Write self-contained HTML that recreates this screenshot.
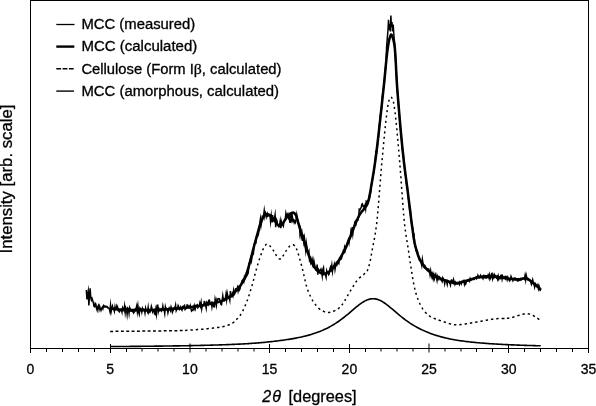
<!DOCTYPE html>
<html><head><meta charset="utf-8"><title>XRD</title>
<style>html,body{margin:0;padding:0;background:#fff}svg{display:block}</style></head>
<body>
<svg width="596" height="406" viewBox="0 0 596 406">
<rect width="596" height="406" fill="#fff"/>
<g shape-rendering="crispEdges" stroke="#000" stroke-width="1" fill="none">
<path d="M30.5 0.5H588.5V348.5H30.5Z"/>
<path d="M30.5 348.5V352.5"/>
<path d="M46.5 348.5V351.5"/>
<path d="M62.5 348.5V351.5"/>
<path d="M78.5 348.5V351.5"/>
<path d="M94.5 348.5V351.5"/>
<path d="M110.5 343.5V352.5"/>
<path d="M126.5 348.5V351.5"/>
<path d="M269.5 343.5V352.5"/>
<path d="M285.5 348.5V351.5"/>
<path d="M301.5 348.5V351.5"/>
<path d="M317.5 348.5V351.5"/>
<path d="M333.5 348.5V351.5"/>
<path d="M349.5 343.5V352.5"/>
<path d="M365.5 348.5V351.5"/>
<path d="M476.5 348.5V351.5"/>
<path d="M492.5 348.5V351.5"/>
<path d="M508.5 343.5V352.5"/>
<path d="M524.5 348.5V351.5"/>
<path d="M540.5 348.5V351.5"/>
<path d="M556.5 348.5V351.5"/>
<path d="M572.5 348.5V351.5"/>
<path d="M588.5 348.5V352.5"/>
</g>
<g stroke="#000" stroke-width="1" fill="none"><path d="M142.0 348.5V351.5"/><path d="M158.0 348.5V351.5"/><path d="M174.0 348.5V351.5"/><path d="M190.0 343.5V352.5"/><path d="M206.0 348.5V351.5"/><path d="M222.0 348.5V351.5"/><path d="M238.0 348.5V351.5"/><path d="M254.0 348.5V351.5"/><path d="M381.0 348.5V351.5"/><path d="M397.0 348.5V351.5"/><path d="M413.0 348.5V351.5"/><path d="M429.0 343.5V352.5"/><path d="M445.0 348.5V351.5"/><path d="M461.0 348.5V351.5"/></g>
<g fill="none" stroke="#000" stroke-linejoin="round" stroke-linecap="butt">
<path d="M110.21 346.58 L111.65 346.57 L113.09 346.56 L114.53 346.55 L115.97 346.54 L117.41 346.53 L118.85 346.52 L120.29 346.50 L121.73 346.49 L123.17 346.48 L124.61 346.47 L126.05 346.46 L127.49 346.45 L128.93 346.43 L130.37 346.42 L131.81 346.41 L133.25 346.40 L134.69 346.38 L136.13 346.37 L137.57 346.36 L139.01 346.34 L140.45 346.33 L141.89 346.31 L143.33 346.30 L144.77 346.28 L146.21 346.27 L147.65 346.25 L149.08 346.24 L150.52 346.22 L151.96 346.21 L153.40 346.19 L154.84 346.17 L156.28 346.16 L157.72 346.14 L159.16 346.12 L160.60 346.10 L162.04 346.08 L163.48 346.06 L164.92 346.05 L166.36 346.03 L167.80 346.01 L169.24 345.99 L170.68 345.96 L172.12 345.94 L173.56 345.92 L175.00 345.90 L176.44 345.88 L177.88 345.85 L179.32 345.83 L180.76 345.80 L182.20 345.78 L183.64 345.75 L185.08 345.73 L186.52 345.70 L187.96 345.68 L189.40 345.65 L190.84 345.62 L192.27 345.59 L193.71 345.56 L195.15 345.53 L196.59 345.50 L198.03 345.47 L199.47 345.44 L200.91 345.40 L202.35 345.37 L203.79 345.33 L205.23 345.30 L206.67 345.26 L208.11 345.22 L209.55 345.19 L210.99 345.15 L212.43 345.11 L213.87 345.06 L215.31 345.02 L216.75 344.98 L218.19 344.93 L219.63 344.89 L221.07 344.84 L222.51 344.79 L223.95 344.74 L225.39 344.69 L226.83 344.64 L228.27 344.58 L229.71 344.53 L231.15 344.47 L232.59 344.41 L234.02 344.35 L235.46 344.28 L236.90 344.22 L238.34 344.15 L239.78 344.08 L241.22 344.01 L242.66 343.93 L244.10 343.85 L245.54 343.77 L246.98 343.68 L248.42 343.60 L249.86 343.50 L251.30 343.41 L252.74 343.30 L254.18 343.20 L255.62 343.09 L257.06 342.98 L258.50 342.86 L259.94 342.73 L261.38 342.60 L262.82 342.47 L264.26 342.33 L265.70 342.19 L267.14 342.05 L268.58 341.90 L270.02 341.74 L271.46 341.59 L272.90 341.42 L274.34 341.26 L275.77 341.09 L277.21 340.92 L278.65 340.74 L280.09 340.56 L281.53 340.37 L282.97 340.18 L284.41 339.98 L285.85 339.77 L287.29 339.56 L288.73 339.34 L290.17 339.11 L291.61 338.87 L293.05 338.63 L294.49 338.37 L295.93 338.10 L297.37 337.82 L298.81 337.53 L300.25 337.23 L301.69 336.91 L303.13 336.58 L304.57 336.24 L306.01 335.88 L307.45 335.50 L308.89 335.11 L310.33 334.69 L311.77 334.26 L313.21 333.81 L314.65 333.34 L316.09 332.84 L317.52 332.33 L318.96 331.78 L320.40 331.22 L321.84 330.62 L323.28 330.00 L324.72 329.34 L326.16 328.66 L327.60 327.95 L329.04 327.20 L330.48 326.42 L331.92 325.60 L333.36 324.75 L334.80 323.86 L336.24 322.93 L337.68 321.97 L339.12 320.97 L340.56 319.93 L342.00 318.86 L343.44 317.75 L344.88 316.61 L346.32 315.45 L347.76 314.26 L349.20 313.05 L350.64 311.82 L352.08 310.59 L353.52 309.36 L354.96 308.14 L356.40 306.95 L357.84 305.78 L359.27 304.66 L360.71 303.60 L362.15 302.61 L363.59 301.70 L365.03 300.89 L366.47 300.20 L367.91 299.62 L369.35 299.18 L370.79 298.88 L372.23 298.72 L373.67 298.72 L375.11 298.86 L376.55 299.14 L377.99 299.57 L379.43 300.13 L380.87 300.81 L382.31 301.61 L383.75 302.50 L385.19 303.48 L386.63 304.54 L388.07 305.65 L389.51 306.82 L390.95 308.01 L392.39 309.23 L393.83 310.46 L395.27 311.69 L396.71 312.92 L398.15 314.13 L399.59 315.33 L401.02 316.50 L402.46 317.64 L403.90 318.75 L405.34 319.84 L406.78 320.88 L408.22 321.89 L409.66 322.87 L411.10 323.80 L412.54 324.71 L413.98 325.57 L415.42 326.41 L416.86 327.21 L418.30 327.97 L419.74 328.71 L421.18 329.42 L422.62 330.10 L424.06 330.75 L425.50 331.38 L426.94 331.99 L428.38 332.57 L429.82 333.13 L431.26 333.67 L432.70 334.19 L434.14 334.68 L435.58 335.16 L437.02 335.62 L438.46 336.06 L439.90 336.48 L441.34 336.88 L442.77 337.27 L444.21 337.63 L445.65 337.98 L447.09 338.31 L448.53 338.63 L449.97 338.93 L451.41 339.21 L452.85 339.49 L454.29 339.75 L455.73 339.99 L457.17 340.23 L458.61 340.46 L460.05 340.67 L461.49 340.88 L462.93 341.08 L464.37 341.27 L465.81 341.45 L467.25 341.63 L468.69 341.80 L470.13 341.96 L471.57 342.11 L473.01 342.26 L474.45 342.41 L475.89 342.55 L477.33 342.68 L478.77 342.81 L480.21 342.93 L481.65 343.06 L483.09 343.17 L484.52 343.28 L485.96 343.39 L487.40 343.50 L488.84 343.60 L490.28 343.70 L491.72 343.79 L493.16 343.88 L494.60 343.97 L496.04 344.06 L497.48 344.14 L498.92 344.22 L500.36 344.30 L501.80 344.38 L503.24 344.45 L504.68 344.52 L506.12 344.59 L507.56 344.66 L509.00 344.73 L510.44 344.79 L511.88 344.85 L513.32 344.91 L514.76 344.97 L516.20 345.03 L517.64 345.08 L519.08 345.14 L520.52 345.19 L521.96 345.24 L523.40 345.29 L524.84 345.34 L526.27 345.38 L527.71 345.43 L529.15 345.47 L530.59 345.52 L532.03 345.56 L533.47 345.60 L534.91 345.64 L536.35 345.68 L537.79 345.72 L539.23 345.76 L540.67 345.79" stroke-width="1.6"/>
<path d="M110.20 331.40 L110.68 331.40 L111.16 331.39 L111.64 331.39 L112.12 331.39 L112.60 331.38 L113.08 331.38 L113.10 331.38 M115.55 331.36 L115.95 331.36 L116.43 331.36 L116.91 331.35 L117.39 331.35 L117.87 331.34 L118.35 331.34 L118.45 331.34 M120.90 331.32 L121.22 331.32 L121.70 331.31 L122.18 331.31 L122.66 331.30 L123.14 331.30 L123.62 331.29 L123.80 331.29 M126.25 331.27 L126.49 331.27 L126.97 331.26 L127.45 331.26 L127.93 331.25 L128.41 331.25 L128.89 331.24 L129.15 331.24 M131.60 331.21 L131.76 331.21 L132.24 331.21 L132.72 331.20 L133.20 331.20 L133.68 331.19 L134.16 331.19 L134.50 331.19 M136.95 331.16 L137.04 331.16 L137.51 331.15 L137.99 331.15 L138.47 331.14 L138.95 331.14 L139.43 331.14 L139.85 331.13 M142.30 331.11 L142.31 331.11 L142.79 331.10 L143.26 331.10 L143.74 331.09 L144.22 331.09 L144.70 331.08 L145.18 331.08 L145.20 331.08 M147.65 331.05 L148.06 331.05 L148.54 331.04 L149.02 331.04 L149.49 331.03 L149.97 331.03 L150.45 331.02 L150.55 331.02 M153.00 330.99 L153.33 330.99 L153.81 330.99 L154.29 330.98 L154.77 330.97 L155.24 330.97 L155.72 330.96 L155.90 330.96 M158.35 330.93 L158.60 330.93 L159.08 330.92 L159.56 330.92 L160.04 330.91 L160.52 330.90 L161.00 330.90 L161.25 330.89 M163.70 330.86 L163.87 330.86 L164.35 330.85 L164.83 330.84 L165.31 330.84 L165.79 330.83 L166.27 330.82 L166.60 330.82 M169.05 330.78 L169.14 330.78 L169.62 330.77 L170.10 330.77 L170.58 330.76 L171.06 330.75 L171.54 330.74 L171.95 330.74 M174.40 330.70 L174.41 330.70 L174.89 330.69 L175.37 330.68 L175.85 330.67 L176.33 330.67 L176.81 330.66 L177.29 330.65 L177.30 330.65 M179.75 330.60 L180.16 330.60 L180.64 330.59 L181.12 330.57 L181.60 330.56 L182.08 330.55 L182.56 330.53 L182.64 330.53 M185.09 330.42 L185.43 330.40 L185.91 330.38 L186.39 330.35 L186.87 330.33 L187.35 330.30 L187.49 330.29 M190.43 330.10 L190.71 330.08 L191.18 330.05 L191.66 330.01 L192.14 329.98 L192.62 329.94 L192.83 329.93 M195.77 329.71 L195.98 329.69 L196.46 329.66 L196.94 329.62 L197.41 329.59 L197.89 329.55 L198.16 329.53 M201.10 329.32 L201.25 329.31 L201.73 329.27 L202.21 329.23 L202.69 329.19 L203.16 329.15 L203.50 329.12 M206.43 328.83 L206.52 328.83 L207.00 328.78 L207.48 328.72 L207.96 328.67 L208.44 328.62 L208.82 328.58 M211.75 328.23 L211.79 328.23 L212.27 328.17 L212.75 328.11 L213.23 328.05 L213.71 327.99 L214.13 327.94 M217.06 327.57 L217.06 327.57 L217.54 327.51 L218.02 327.45 L218.50 327.39 L218.98 327.33 L219.44 327.27 M222.35 326.80 L222.81 326.69 L223.29 326.58 L223.77 326.46 L224.25 326.33 L224.68 326.22 M227.50 325.35 L227.60 325.32 L228.08 325.16 L228.56 324.99 L229.04 324.83 L229.52 324.67 L229.77 324.58 M232.38 323.24 L232.40 323.23 L232.87 322.88 L233.35 322.51 L233.83 322.11 L234.25 321.74 M236.35 319.66 L236.71 319.27 L237.19 318.75 L237.67 318.21 L237.69 318.18 M239.88 315.64 L240.06 315.43 L240.54 314.81 L241.02 314.11 L241.07 314.04 M242.71 311.12 L242.94 310.66 L243.42 309.66 L243.58 309.32 M244.93 306.25 L245.33 305.31 L245.71 304.41 M246.97 301.31 L247.25 300.58 L247.67 299.43 M248.74 296.26 L249.17 294.91 L249.34 294.35 M250.32 291.15 L250.61 290.20 L250.89 289.23 M251.85 286.02 L252.04 285.35 L252.41 284.10 M253.29 280.87 L253.48 280.18 L253.81 278.94 M254.65 275.69 L254.92 274.67 L255.16 273.76 M256.02 270.52 L256.36 269.28 L256.55 268.59 M257.49 265.38 L257.79 264.38 L258.08 263.47 M259.09 260.27 L259.23 259.82 L259.71 258.37 M260.80 255.20 L261.15 254.24 L261.49 253.33 M262.71 250.21 L263.06 249.33 L263.48 248.36 M265.23 245.51 L265.46 245.21 L265.94 244.66 L266.42 244.24 L266.65 244.14 M269.49 245.48 L269.77 245.76 L270.25 246.28 L270.73 246.86 L270.82 246.97 M272.77 249.69 L273.13 250.17 L273.61 250.87 L273.90 251.34 M275.60 254.23 L276.00 254.94 L276.48 255.74 L276.62 255.95 M278.71 258.54 L278.88 258.67 L279.36 258.91 L279.84 259.00 L280.32 258.91 L280.79 258.65 L280.90 258.56 M282.75 256.29 L283.19 255.57 L283.67 254.76 L283.78 254.57 M285.51 251.70 L285.59 251.58 L286.07 250.91 L286.55 250.25 L286.67 250.07 M288.61 247.34 L288.94 246.92 L289.42 246.38 L289.90 245.91 L289.95 245.87 M292.91 244.54 L293.25 244.66 L293.73 244.99 L294.21 245.45 L294.69 246.02 L294.72 246.05 M296.31 248.53 L296.61 249.13 L297.09 250.30 L297.11 250.36 M298.18 253.53 L298.53 254.66 L298.76 255.45 M299.66 258.68 L299.96 259.77 L300.19 260.60 M301.08 263.83 L301.40 264.95 L301.62 265.76 M302.45 269.01 L302.84 270.65 L302.91 270.95 M303.65 274.22 L303.80 274.85 L304.09 276.17 M304.84 279.44 L305.23 281.15 L305.29 281.38 M306.10 284.64 L306.19 285.01 L306.62 286.57 M307.66 289.75 L308.11 290.93 L308.38 291.62 M309.67 294.71 L310.03 295.51 L310.50 296.53 M312.02 299.51 L312.42 300.22 L312.90 301.03 L313.03 301.24 M314.97 303.96 L315.30 304.36 L315.78 304.94 L316.25 305.50 M318.47 308.01 L318.65 308.19 L319.13 308.65 L319.61 309.06 L320.09 309.44 L320.29 309.57 M322.88 310.97 L322.96 311.01 L323.44 311.24 L323.92 311.47 L324.40 311.68 L324.88 311.87 L325.08 311.94 M327.95 312.50 L328.24 312.49 L328.71 312.45 L329.19 312.39 L329.67 312.31 L330.15 312.21 L330.33 312.17 M333.14 311.30 L333.51 311.17 L333.99 311.00 L334.47 310.83 L334.94 310.63 L335.38 310.42 M337.89 308.88 L338.30 308.57 L338.78 308.18 L339.26 307.77 L339.73 307.34 M341.73 305.18 L342.13 304.67 L342.61 304.01 L342.91 303.57 M344.71 300.75 L345.01 300.25 L345.49 299.43 L345.72 299.02 M347.38 296.11 L347.40 296.06 L347.88 295.20 L348.36 294.36 M350.04 291.47 L350.28 291.07 L350.76 290.29 L351.09 289.77 M352.87 286.93 L353.15 286.47 L353.63 285.68 L353.92 285.22 M355.72 282.40 L356.03 281.94 L356.51 281.26 L356.87 280.77 M359.10 278.27 L359.38 278.00 L359.86 277.58 L360.34 277.18 L360.82 276.79 L360.93 276.71 M363.23 274.87 L363.70 274.47 L364.18 274.04 L364.65 273.60 L365.01 273.27 M367.02 271.11 L367.05 271.06 L367.53 270.27 L367.92 269.33 M368.93 266.13 L368.97 265.99 L369.45 264.20 L369.45 264.20 M370.19 260.94 L370.41 259.89 L370.58 258.97 M371.18 255.68 L371.36 254.65 L371.53 253.71 M372.13 250.41 L372.32 249.35 L372.50 248.45 M373.14 245.16 L373.28 244.43 L373.52 243.20 M374.16 239.91 L374.24 239.47 L374.52 237.94 M375.09 234.64 L375.20 234.02 L375.41 232.67 M375.90 229.35 L376.16 227.58 L376.18 227.37 M376.60 224.05 L376.63 223.79 L376.82 222.06 M377.18 218.73 L377.37 216.74 M377.68 213.40 L377.86 211.41 M378.15 208.07 L378.32 206.08 M378.60 202.74 L378.76 200.75 M379.03 197.41 L379.03 197.36 L379.18 195.42 M379.45 192.08 L379.51 191.25 L379.60 190.08 M379.86 186.74 L379.99 185.10 L380.02 184.75 M380.28 181.41 L380.44 179.41 M380.70 176.08 L380.87 174.08 M381.14 170.74 L381.31 168.75 M381.60 165.41 L381.78 163.42 M382.09 160.09 L382.27 158.09 M382.59 154.76 L382.77 152.77 M383.08 149.43 L383.27 147.44 M383.58 144.10 L383.77 142.11 M384.08 138.78 L384.28 136.79 M384.60 133.45 L384.78 131.62 L384.80 131.46 M385.14 128.13 L385.26 126.91 L385.34 126.14 M385.70 122.81 L385.74 122.42 L385.92 120.82 M386.30 117.49 L386.55 115.51 M386.98 112.19 L387.18 110.71 L387.25 110.21 M387.72 106.89 L388.04 104.91 M388.68 101.63 L389.09 100.25 L389.30 99.73 M391.04 97.02 L391.49 97.29 L391.97 98.04 L392.21 98.58 M393.35 101.72 L393.41 101.91 L393.76 103.68 M394.30 106.98 L394.37 107.39 L394.58 108.96 M395.03 112.28 L395.29 114.27 M395.67 117.59 L395.80 118.74 L395.89 119.58 M396.24 122.91 L396.28 123.34 L396.43 124.91 M396.76 128.24 L396.76 128.29 L396.94 130.23 M397.24 133.57 L397.42 135.56 M397.71 138.90 L397.72 138.96 L397.89 140.89 M398.17 144.23 L398.20 144.53 L398.34 146.22 M398.62 149.56 L398.68 150.18 L398.79 151.55 M399.08 154.89 L399.16 155.84 L399.25 156.88 M399.53 160.22 L399.64 161.42 L399.70 162.21 M399.98 165.55 L400.12 167.25 L400.14 167.54 M400.39 170.88 L400.55 172.88 M400.80 176.22 L400.94 178.21 M401.18 181.56 L401.33 183.55 M401.57 186.89 L401.71 188.89 M401.95 192.23 L402.03 193.41 L402.09 194.22 M402.33 197.56 L402.48 199.56 M402.73 202.90 L402.88 204.89 M403.14 208.23 L403.29 210.23 M403.57 213.57 L403.74 215.56 M404.04 218.90 L404.23 220.89 M404.58 224.22 L404.80 226.21 M405.21 229.53 L405.39 230.87 L405.48 231.51 M405.96 234.83 L406.27 236.80 M406.80 240.11 L406.82 240.24 L407.13 242.08 M407.68 245.39 L407.78 246.02 L407.99 247.36 M408.50 250.68 L408.74 252.33 L408.79 252.65 M409.26 255.97 L409.54 257.95 M410.02 261.27 L410.18 262.33 L410.32 263.24 M410.83 266.55 L411.14 268.46 L411.15 268.53 M411.68 271.84 L412.00 273.81 M412.54 277.12 L412.57 277.30 L412.88 279.09 M413.46 282.39 L413.53 282.82 L413.82 284.35 M414.48 287.64 L414.49 287.67 L414.93 289.59 M415.82 292.82 L415.93 293.20 L416.39 294.73 M417.44 297.92 L417.85 299.06 L418.13 299.79 M419.44 302.88 L419.76 303.55 L420.24 304.45 L420.35 304.65 M421.95 307.60 L422.16 307.97 L422.64 308.79 L422.97 309.32 M424.99 311.98 L425.03 312.03 L425.51 312.50 L425.99 312.96 L426.47 313.41 L426.72 313.64 M428.95 315.57 L429.35 315.88 L429.83 316.23 L430.31 316.55 L430.78 316.86 L430.92 316.94 M433.59 318.19 L433.66 318.22 L434.14 318.42 L434.62 318.61 L435.10 318.80 L435.58 318.99 L435.82 319.08 M438.60 320.06 L438.93 320.17 L439.41 320.32 L439.89 320.47 L440.37 320.61 L440.85 320.76 L440.89 320.77 M443.69 321.71 L443.72 321.72 L444.20 321.89 L444.68 322.06 L445.16 322.23 L445.64 322.40 L445.95 322.51 M448.75 323.43 L448.99 323.51 L449.47 323.65 L449.95 323.79 L450.43 323.92 L450.91 324.04 L451.06 324.08 M453.96 324.64 L454.26 324.68 L454.74 324.73 L455.22 324.76 L455.70 324.79 L456.18 324.80 L456.35 324.80 M459.30 324.69 L459.54 324.67 L460.02 324.63 L460.49 324.59 L460.97 324.55 L461.45 324.50 L461.69 324.48 M464.62 324.10 L464.81 324.08 L465.29 324.00 L465.77 323.93 L466.24 323.86 L466.72 323.78 L466.99 323.73 M469.89 323.23 L470.08 323.20 L470.56 323.11 L471.04 323.02 L471.52 322.94 L472.00 322.85 L472.26 322.80 M475.16 322.28 L475.35 322.25 L475.83 322.16 L476.31 322.08 L476.79 322.00 L477.27 321.92 L477.53 321.88 M480.43 321.36 L480.62 321.32 L481.10 321.23 L481.58 321.14 L482.06 321.05 L482.54 320.96 L482.79 320.91 M485.69 320.36 L485.89 320.32 L486.37 320.23 L486.85 320.14 L487.33 320.05 L487.81 319.96 L488.04 319.92 M490.95 319.41 L491.16 319.37 L491.64 319.30 L492.12 319.22 L492.60 319.15 L493.08 319.08 L493.32 319.04 M496.25 318.72 L496.43 318.70 L496.91 318.67 L497.39 318.64 L497.87 318.62 L498.35 318.60 L498.65 318.58 M501.60 318.50 L501.71 318.50 L502.18 318.49 L502.66 318.48 L503.14 318.46 L503.62 318.45 L504.10 318.44 L504.50 318.42 M506.94 318.29 L506.98 318.29 L507.46 318.25 L507.94 318.20 L508.41 318.15 L508.89 318.10 L509.33 318.04 M512.22 317.47 L512.25 317.47 L512.73 317.33 L513.21 317.18 L513.69 317.03 L514.16 316.88 L514.51 316.76 M517.31 315.81 L517.52 315.75 L518.00 315.60 L518.48 315.46 L518.96 315.33 L519.44 315.20 L519.61 315.15 M522.45 314.36 L522.79 314.27 L523.27 314.15 L523.75 314.05 L524.23 313.95 L524.71 313.86 L524.80 313.84 M527.73 313.74 L528.06 313.79 L528.54 313.88 L529.02 314.00 L529.50 314.13 L529.98 314.27 L530.06 314.30 M532.81 315.37 L532.85 315.39 L533.33 315.65 L533.81 315.94 L534.29 316.25 L534.77 316.57 L534.85 316.63 M537.31 318.26 L537.65 318.47 L538.12 318.76 L538.60 319.05 L539.08 319.34 L539.36 319.51" stroke-width="1.5"/>
<path d="M110.20 308.50 L110.68 308.56 L111.16 308.63 L111.64 308.69 L112.12 308.75 L112.60 308.81 L113.08 308.88 L113.55 308.94 L114.03 308.99 L114.51 309.05 L114.99 309.10 L115.47 309.15 L115.95 309.20 L116.43 309.25 L116.91 309.29 L117.39 309.32 L117.87 309.36 L118.35 309.39 L118.83 309.41 L119.30 309.44 L119.78 309.46 L120.26 309.48 L120.74 309.51 L121.22 309.53 L121.70 309.56 L122.18 309.58 L122.66 309.61 L123.14 309.63 L123.62 309.65 L124.10 309.68 L124.58 309.70 L125.06 309.73 L125.53 309.75 L126.01 309.77 L126.49 309.79 L126.97 309.82 L127.45 309.84 L127.93 309.86 L128.41 309.88 L128.89 309.90 L129.37 309.92 L129.85 309.94 L130.33 309.96 L130.81 309.98 L131.28 310.00 L131.76 310.02 L132.24 310.04 L132.72 310.05 L133.20 310.07 L133.68 310.08 L134.16 310.10 L134.64 310.11 L135.12 310.13 L135.60 310.14 L136.08 310.15 L136.56 310.16 L137.04 310.17 L137.51 310.18 L137.99 310.19 L138.47 310.19 L138.95 310.20 L139.43 310.21 L139.91 310.21 L140.39 310.21 L140.87 310.21 L141.35 310.22 L141.83 310.21 L142.31 310.21 L142.79 310.21 L143.26 310.21 L143.74 310.20 L144.22 310.19 L144.70 310.19 L145.18 310.18 L145.66 310.17 L146.14 310.16 L146.62 310.15 L147.10 310.13 L147.58 310.12 L148.06 310.11 L148.54 310.09 L149.02 310.08 L149.49 310.06 L149.97 310.04 L150.45 310.02 L150.93 310.01 L151.41 309.99 L151.89 309.97 L152.37 309.95 L152.85 309.93 L153.33 309.91 L153.81 309.89 L154.29 309.86 L154.77 309.84 L155.24 309.82 L155.72 309.80 L156.20 309.78 L156.68 309.75 L157.16 309.73 L157.64 309.71 L158.12 309.69 L158.60 309.66 L159.08 309.64 L159.56 309.62 L160.04 309.60 L160.52 309.58 L161.00 309.55 L161.47 309.53 L161.95 309.51 L162.43 309.48 L162.91 309.46 L163.39 309.43 L163.87 309.41 L164.35 309.38 L164.83 309.35 L165.31 309.32 L165.79 309.30 L166.27 309.27 L166.75 309.24 L167.22 309.21 L167.70 309.18 L168.18 309.15 L168.66 309.12 L169.14 309.09 L169.62 309.06 L170.10 309.03 L170.58 308.99 L171.06 308.96 L171.54 308.93 L172.02 308.90 L172.50 308.86 L172.98 308.83 L173.45 308.79 L173.93 308.76 L174.41 308.73 L174.89 308.69 L175.37 308.65 L175.85 308.62 L176.33 308.58 L176.81 308.55 L177.29 308.51 L177.77 308.47 L178.25 308.44 L178.73 308.40 L179.20 308.36 L179.68 308.32 L180.16 308.29 L180.64 308.25 L181.12 308.21 L181.60 308.16 L182.08 308.12 L182.56 308.07 L183.04 308.03 L183.52 307.98 L184.00 307.93 L184.48 307.88 L184.96 307.83 L185.43 307.77 L185.91 307.72 L186.39 307.66 L186.87 307.60 L187.35 307.55 L187.83 307.49 L188.31 307.43 L188.79 307.37 L189.27 307.30 L189.75 307.24 L190.23 307.18 L190.71 307.11 L191.18 307.05 L191.66 306.98 L192.14 306.92 L192.62 306.85 L193.10 306.79 L193.58 306.72 L194.06 306.65 L194.54 306.58 L195.02 306.51 L195.50 306.45 L195.98 306.38 L196.46 306.31 L196.94 306.24 L197.41 306.17 L197.89 306.10 L198.37 306.03 L198.85 305.96 L199.33 305.90 L199.81 305.83 L200.29 305.76 L200.77 305.69 L201.25 305.61 L201.73 305.54 L202.21 305.46 L202.69 305.38 L203.16 305.30 L203.64 305.22 L204.12 305.13 L204.60 305.05 L205.08 304.96 L205.56 304.87 L206.04 304.77 L206.52 304.68 L207.00 304.58 L207.48 304.49 L207.96 304.39 L208.44 304.29 L208.92 304.18 L209.39 304.08 L209.87 303.98 L210.35 303.87 L210.83 303.76 L211.31 303.65 L211.79 303.54 L212.27 303.43 L212.75 303.32 L213.23 303.20 L213.71 303.09 L214.19 302.97 L214.67 302.86 L215.14 302.74 L215.62 302.62 L216.10 302.50 L216.58 302.38 L217.06 302.26 L217.54 302.14 L218.02 302.01 L218.50 301.89 L218.98 301.77 L219.46 301.64 L219.94 301.52 L220.42 301.39 L220.89 301.24 L221.37 301.08 L221.85 300.91 L222.33 300.72 L222.81 300.52 L223.29 300.31 L223.77 300.09 L224.25 299.86 L224.73 299.61 L225.21 299.36 L225.69 299.10 L226.17 298.84 L226.65 298.56 L227.12 298.28 L227.60 298.00 L228.08 297.71 L228.56 297.41 L229.04 297.11 L229.52 296.81 L230.00 296.50 L230.48 296.18 L230.96 295.83 L231.44 295.45 L231.92 295.04 L232.40 294.61 L232.87 294.16 L233.35 293.69 L233.83 293.20 L234.31 292.70 L234.79 292.17 L235.27 291.64 L235.75 291.09 L236.23 290.53 L236.71 289.97 L237.19 289.39 L237.67 288.82 L238.15 288.24 L238.63 287.66 L239.10 287.08 L239.58 286.50 L240.06 285.92 L240.54 285.33 L241.02 284.70 L241.50 284.04 L241.98 283.34 L242.46 282.60 L242.94 281.82 L243.42 281.00 L243.90 280.14 L244.38 279.24 L244.85 278.29 L245.33 277.26 L245.81 276.04 L246.29 274.66 L246.77 273.16 L247.25 271.58 L247.73 269.95 L248.21 268.31 L248.69 266.66 L249.17 264.96 L249.65 263.21 L250.13 261.41 L250.61 259.58 L251.08 257.72 L251.56 255.85 L252.04 253.97 L252.52 252.09 L253.00 250.22 L253.48 248.37 L253.96 246.54 L254.44 244.75 L254.92 243.00 L255.40 241.30 L255.88 239.57 L256.36 237.82 L256.83 236.05 L257.31 234.28 L257.79 232.53 L258.27 230.80 L258.75 229.11 L259.23 227.48 L259.71 225.91 L260.19 224.43 L260.67 223.04 L261.15 221.76 L261.63 220.60 L262.11 219.57 L262.59 218.61 L263.06 217.72 L263.54 216.93 L264.02 216.25 L264.50 215.70 L264.98 215.31 L265.46 215.00 L265.94 214.70 L266.42 214.44 L266.90 214.26 L267.38 214.19 L267.86 214.25 L268.34 214.39 L268.81 214.60 L269.29 214.85 L269.77 215.15 L270.25 215.48 L270.73 215.90 L271.21 216.39 L271.69 216.92 L272.17 217.49 L272.65 218.08 L273.13 218.65 L273.61 219.27 L274.09 219.92 L274.57 220.59 L275.04 221.26 L275.52 221.90 L276.00 222.50 L276.48 223.10 L276.96 223.72 L277.44 224.33 L277.92 224.89 L278.40 225.38 L278.88 225.75 L279.36 225.97 L279.84 226.00 L280.32 225.84 L280.79 225.52 L281.27 225.07 L281.75 224.54 L282.23 223.95 L282.71 223.35 L283.19 222.76 L283.67 222.10 L284.15 221.36 L284.63 220.59 L285.11 219.82 L285.59 219.08 L286.07 218.41 L286.55 217.77 L287.02 217.12 L287.50 216.49 L287.98 215.89 L288.46 215.33 L288.94 214.82 L289.42 214.37 L289.90 213.98 L290.38 213.64 L290.86 213.35 L291.34 213.09 L291.82 212.89 L292.30 212.73 L292.77 212.62 L293.25 212.60 L293.73 212.75 L294.21 213.06 L294.69 213.51 L295.17 214.09 L295.65 214.77 L296.13 215.64 L296.61 216.94 L297.09 218.54 L297.57 220.31 L298.05 222.10 L298.53 223.76 L299.00 225.27 L299.48 226.78 L299.96 228.29 L300.44 229.79 L300.92 231.29 L301.40 232.78 L301.88 234.27 L302.36 235.75 L302.84 237.23 L303.32 238.70 L303.80 240.17 L304.28 241.62 L304.75 243.08 L305.23 244.56 L305.71 246.06 L306.19 247.56 L306.67 249.05 L307.15 250.53 L307.63 251.99 L308.11 253.41 L308.59 254.79 L309.07 256.11 L309.55 257.37 L310.03 258.56 L310.51 259.70 L310.98 260.80 L311.46 261.86 L311.94 262.87 L312.42 263.83 L312.90 264.72 L313.38 265.55 L313.86 266.30 L314.34 266.98 L314.82 267.66 L315.30 268.32 L315.78 268.95 L316.26 269.54 L316.73 270.08 L317.21 270.57 L317.69 270.98 L318.17 271.32 L318.65 271.64 L319.13 271.96 L319.61 272.27 L320.09 272.57 L320.57 272.86 L321.05 273.11 L321.53 273.34 L322.01 273.52 L322.49 273.67 L322.96 273.76 L323.44 273.80 L323.92 273.78 L324.40 273.72 L324.88 273.61 L325.36 273.46 L325.84 273.28 L326.32 273.08 L326.80 272.85 L327.28 272.60 L327.76 272.33 L328.24 272.05 L328.71 271.77 L329.19 271.48 L329.67 271.16 L330.15 270.80 L330.63 270.40 L331.11 269.96 L331.59 269.50 L332.07 269.02 L332.55 268.50 L333.03 267.97 L333.51 267.43 L333.99 266.87 L334.47 266.30 L334.94 265.73 L335.42 265.15 L335.90 264.55 L336.38 263.92 L336.86 263.27 L337.34 262.59 L337.82 261.89 L338.30 261.16 L338.78 260.42 L339.26 259.65 L339.74 258.86 L340.22 258.06 L340.69 257.24 L341.17 256.40 L341.65 255.55 L342.13 254.69 L342.61 253.82 L343.09 252.93 L343.57 252.04 L344.05 251.14 L344.53 250.19 L345.01 249.21 L345.49 248.20 L345.97 247.16 L346.45 246.09 L346.92 245.00 L347.40 243.89 L347.88 242.76 L348.36 241.62 L348.84 240.47 L349.32 239.31 L349.80 238.15 L350.28 236.99 L350.76 235.82 L351.24 234.59 L351.72 233.33 L352.20 232.05 L352.67 230.76 L353.15 229.47 L353.63 228.21 L354.11 226.99 L354.59 225.82 L355.07 224.68 L355.55 223.52 L356.03 222.37 L356.51 221.23 L356.99 220.11 L357.47 219.01 L357.95 217.95 L358.43 216.93 L358.90 215.97 L359.38 215.07 L359.86 214.24 L360.34 213.49 L360.82 212.84 L361.30 212.25 L361.78 211.71 L362.26 211.18 L362.74 210.63 L363.22 210.02 L363.70 209.41 L364.18 208.79 L364.65 208.16 L365.13 207.51 L365.61 206.85 L366.09 206.17 L366.57 205.42 L367.05 204.59 L367.53 203.65 L368.01 202.41 L368.49 200.72 L368.97 198.71 L369.45 196.30 L369.93 193.77 L370.41 191.12 L370.88 188.39 L371.36 185.58 L371.84 182.74 L372.32 179.89 L372.80 177.03 L373.28 174.14 L373.76 171.18 L374.24 168.12 L374.72 164.92 L375.20 161.55 L375.68 158.00 L376.16 154.31 L376.63 150.51 L377.11 146.59 L377.59 142.57 L378.07 138.47 L378.55 134.28 L379.03 130.02 L379.51 125.71 L379.99 121.35 L380.47 116.95 L380.95 112.52 L381.43 108.08 L381.91 103.63 L382.39 99.18 L382.86 94.75 L383.34 90.34 L383.82 85.93 L384.30 81.23 L384.78 76.30 L385.26 71.27 L385.74 66.24 L386.22 61.36 L386.70 56.72 L387.18 52.46 L387.66 48.69 L388.14 45.49 L388.61 42.71 L389.09 40.33 L389.57 38.37 L390.05 36.85 L390.53 35.51 L391.01 34.60 L391.49 34.69 L391.97 35.65 L392.45 36.88 L392.93 38.14 L393.41 39.82 L393.89 41.98 L394.37 44.71 L394.84 48.23 L395.32 54.44 L395.80 62.89 L396.28 72.27 L396.76 81.25 L397.24 88.52 L397.72 94.67 L398.20 100.70 L398.68 106.61 L399.16 112.39 L399.64 118.04 L400.12 123.55 L400.59 128.92 L401.07 134.14 L401.55 139.21 L402.03 144.12 L402.51 148.87 L402.99 153.45 L403.47 157.86 L403.95 162.10 L404.43 166.13 L404.91 170.00 L405.39 173.75 L405.87 177.40 L406.35 181.00 L406.82 184.59 L407.30 188.21 L407.78 191.90 L408.26 195.68 L408.74 199.56 L409.22 203.49 L409.70 207.44 L410.18 211.38 L410.66 215.26 L411.14 219.06 L411.62 222.74 L412.10 226.26 L412.57 229.66 L413.05 233.07 L413.53 236.35 L414.01 239.42 L414.49 242.16 L414.97 244.47 L415.45 246.37 L415.93 248.20 L416.41 249.96 L416.89 251.64 L417.37 253.23 L417.85 254.72 L418.33 256.09 L418.80 257.35 L419.28 258.47 L419.76 259.45 L420.24 260.27 L420.72 261.02 L421.20 261.76 L421.68 262.49 L422.16 263.22 L422.64 263.93 L423.12 264.63 L423.60 265.31 L424.08 265.97 L424.55 266.62 L425.03 267.24 L425.51 267.84 L425.99 268.41 L426.47 268.96 L426.95 269.47 L427.43 269.96 L427.91 270.41 L428.39 270.83 L428.87 271.21 L429.35 271.60 L429.83 271.98 L430.31 272.37 L430.78 272.75 L431.26 273.13 L431.74 273.51 L432.22 273.88 L432.70 274.25 L433.18 274.61 L433.66 274.96 L434.14 275.31 L434.62 275.64 L435.10 275.97 L435.58 276.28 L436.06 276.58 L436.53 276.86 L437.01 277.13 L437.49 277.38 L437.97 277.62 L438.45 277.84 L438.93 278.04 L439.41 278.24 L439.89 278.44 L440.37 278.64 L440.85 278.84 L441.33 279.03 L441.81 279.22 L442.28 279.41 L442.76 279.60 L443.24 279.78 L443.72 279.96 L444.20 280.14 L444.68 280.31 L445.16 280.48 L445.64 280.65 L446.12 280.81 L446.60 280.96 L447.08 281.11 L447.56 281.26 L448.04 281.40 L448.51 281.53 L448.99 281.66 L449.47 281.78 L449.95 281.90 L450.43 282.01 L450.91 282.12 L451.39 282.23 L451.87 282.34 L452.35 282.46 L452.83 282.57 L453.31 282.67 L453.79 282.77 L454.26 282.85 L454.74 282.93 L455.22 282.98 L455.70 283.02 L456.18 283.03 L456.66 283.02 L457.14 282.99 L457.62 282.94 L458.10 282.88 L458.58 282.81 L459.06 282.73 L459.54 282.64 L460.02 282.54 L460.49 282.44 L460.97 282.33 L461.45 282.21 L461.93 282.09 L462.41 281.96 L462.89 281.83 L463.37 281.69 L463.85 281.55 L464.33 281.41 L464.81 281.26 L465.29 281.11 L465.77 280.96 L466.24 280.81 L466.72 280.66 L467.20 280.51 L467.68 280.35 L468.16 280.20 L468.64 280.05 L469.12 279.91 L469.60 279.76 L470.08 279.62 L470.56 279.48 L471.04 279.34 L471.52 279.20 L472.00 279.05 L472.47 278.90 L472.95 278.75 L473.43 278.59 L473.91 278.44 L474.39 278.29 L474.87 278.14 L475.35 278.00 L475.83 277.86 L476.31 277.73 L476.79 277.60 L477.27 277.48 L477.75 277.36 L478.22 277.23 L478.70 277.11 L479.18 277.00 L479.66 276.89 L480.14 276.79 L480.62 276.70 L481.10 276.62 L481.58 276.56 L482.06 276.51 L482.54 276.48 L483.02 276.45 L483.50 276.42 L483.98 276.40 L484.45 276.38 L484.93 276.37 L485.41 276.35 L485.89 276.34 L486.37 276.33 L486.85 276.33 L487.33 276.33 L487.81 276.33 L488.29 276.33 L488.77 276.34 L489.25 276.35 L489.73 276.37 L490.20 276.38 L490.68 276.41 L491.16 276.43 L491.64 276.46 L492.12 276.49 L492.60 276.52 L493.08 276.56 L493.56 276.60 L494.04 276.64 L494.52 276.69 L495.00 276.74 L495.48 276.79 L495.96 276.84 L496.43 276.90 L496.91 276.96 L497.39 277.03 L497.87 277.09 L498.35 277.16 L498.83 277.22 L499.31 277.29 L499.79 277.36 L500.27 277.43 L500.75 277.51 L501.23 277.58 L501.71 277.65 L502.18 277.72 L502.66 277.80 L503.14 277.87 L503.62 277.94 L504.10 278.01 L504.58 278.09 L505.06 278.16 L505.54 278.22 L506.02 278.29 L506.50 278.36 L506.98 278.42 L507.46 278.48 L507.94 278.54 L508.41 278.60 L508.89 278.66 L509.37 278.71 L509.85 278.76 L510.33 278.80 L510.81 278.85 L511.29 278.88 L511.77 278.92 L512.25 278.95 L512.73 278.98 L513.21 279.01 L513.69 279.04 L514.16 279.06 L514.64 279.08 L515.12 279.10 L515.60 279.12 L516.08 279.13 L516.56 279.15 L517.04 279.16 L517.52 279.17 L518.00 279.18 L518.48 279.19 L518.96 279.20 L519.44 279.19 L519.92 279.16 L520.39 279.11 L520.87 279.03 L521.35 278.94 L521.83 278.84 L522.31 278.74 L522.79 278.64 L523.27 278.54 L523.75 278.45 L524.23 278.38 L524.71 278.33 L525.19 278.30 L525.67 278.31 L526.14 278.37 L526.62 278.49 L527.10 278.65 L527.58 278.86 L528.06 279.11 L528.54 279.40 L529.02 279.71 L529.50 280.05 L529.98 280.41 L530.46 280.79 L530.94 281.18 L531.42 281.58 L531.90 281.98 L532.37 282.38 L532.85 282.77 L533.33 283.15 L533.81 283.51 L534.29 283.87 L534.77 284.24 L535.25 284.62 L535.73 285.02 L536.21 285.42 L536.69 285.83 L537.17 286.26 L537.65 286.69 L538.12 287.13 L538.60 287.58 L539.08 288.03 L539.56 288.49 L540.04 288.95 L540.52 289.42 L541.00 289.90" stroke-width="2.55"/>
<path d="M86.30 290.00 L86.94 299.50 L87.58 294.31 L88.21 290.94 L88.85 305.50 L89.49 295.25 L90.13 288.20 L90.76 297.53 L91.40 300.00 L92.04 298.39 L92.68 300.43 L93.31 302.67 L93.95 306.37 L94.59 306.81 L95.23 303.17 L95.87 303.96 L96.50 308.31 L97.14 310.28 L97.78 306.82 L98.42 305.44 L99.05 309.40 L99.69 306.35 L100.33 308.65 L100.97 310.49 L101.61 308.49 L102.24 307.29 L102.88 308.77 L103.52 305.77 L104.16 306.84 L104.79 306.02 L105.43 306.90 L106.07 306.36 L106.71 307.13 L107.34 306.82 L107.98 307.98 L108.62 308.07 L109.26 308.73 L109.90 311.31 L110.53 305.14 L111.17 311.48 L111.81 308.19 L112.45 306.08 L113.08 308.50 L113.72 309.16 L114.36 311.38 L115.00 306.77 L115.63 309.65 L116.27 309.49 L116.91 305.58 L117.55 306.73 L118.19 310.70 L118.82 310.94 L119.46 311.84 L120.10 310.65 L120.74 310.38 L121.37 309.81 L122.01 312.23 L122.65 307.75 L123.29 309.33 L123.93 310.52 L124.56 306.23 L125.20 312.62 L125.84 308.02 L126.48 309.64 L127.11 314.44 L127.75 308.03 L128.39 308.72 L129.03 313.35 L129.66 307.56 L130.30 309.01 L130.94 311.12 L131.58 311.01 L132.22 311.34 L132.85 310.87 L133.49 313.04 L134.13 312.33 L134.77 311.43 L135.40 308.63 L136.04 308.58 L136.68 305.97 L137.32 311.69 L137.95 306.18 L138.59 312.13 L139.23 314.27 L139.87 307.87 L140.51 308.71 L141.14 309.17 L141.78 312.04 L142.42 308.31 L143.06 309.92 L143.69 309.05 L144.33 309.64 L144.97 313.02 L145.61 308.05 L146.25 310.31 L146.88 310.74 L147.52 312.01 L148.16 307.32 L148.80 312.54 L149.43 311.02 L150.07 311.96 L150.71 310.17 L151.35 306.38 L151.98 308.54 L152.62 311.74 L153.26 309.99 L153.90 309.77 L154.54 313.79 L155.17 314.44 L155.81 309.71 L156.45 314.02 L157.09 305.35 L157.72 305.20 L158.36 311.58 L159.00 309.07 L159.64 310.89 L160.27 310.72 L160.91 309.36 L161.55 311.03 L162.19 309.83 L162.83 306.09 L163.46 309.91 L164.10 309.80 L164.74 313.39 L165.38 306.84 L166.01 309.32 L166.65 308.31 L167.29 308.91 L167.93 312.82 L168.57 309.96 L169.20 308.06 L169.84 309.38 L170.48 310.69 L171.12 306.77 L171.75 308.33 L172.39 312.26 L173.03 310.71 L173.67 308.68 L174.30 307.68 L174.94 308.35 L175.58 305.23 L176.22 310.67 L176.86 309.29 L177.49 308.80 L178.13 305.59 L178.77 306.82 L179.41 309.48 L180.04 308.86 L180.68 307.15 L181.32 309.30 L181.96 310.20 L182.59 306.59 L183.23 306.84 L183.87 306.03 L184.51 305.33 L185.15 309.56 L185.78 308.85 L186.42 308.40 L187.06 305.00 L187.70 305.20 L188.33 307.28 L188.97 306.43 L189.61 307.52 L190.25 305.64 L190.89 308.53 L191.52 310.96 L192.16 310.32 L192.80 310.37 L193.44 306.90 L194.07 308.68 L194.71 305.73 L195.35 308.49 L195.99 305.54 L196.62 305.21 L197.26 304.78 L197.90 307.64 L198.54 306.62 L199.18 306.33 L199.81 303.32 L200.45 306.05 L201.09 302.46 L201.73 308.81 L202.36 305.14 L203.00 305.76 L203.64 304.98 L204.28 301.56 L204.91 301.91 L205.55 304.80 L206.19 308.11 L206.83 302.10 L207.47 302.89 L208.10 304.25 L208.74 300.38 L209.38 300.21 L210.02 303.00 L210.65 303.70 L211.29 302.76 L211.93 307.04 L212.57 302.98 L213.21 304.04 L213.84 306.76 L214.48 306.86 L215.12 299.04 L215.76 301.71 L216.39 305.15 L217.03 299.03 L217.67 299.93 L218.31 298.88 L218.94 298.56 L219.58 298.92 L220.22 301.86 L220.86 304.27 L221.50 304.68 L222.13 300.83 L222.77 295.82 L223.41 300.12 L224.05 299.14 L224.68 300.49 L225.32 298.99 L225.96 294.60 L226.60 299.59 L227.23 293.19 L227.87 296.15 L228.51 298.20 L229.15 297.90 L229.79 300.50 L230.42 291.05 L231.06 296.59 L231.70 296.93 L232.34 293.86 L232.97 295.65 L233.61 290.69 L234.25 294.40 L234.89 293.41 L235.53 288.88 L236.16 288.92 L236.80 289.37 L237.44 287.41 L238.08 291.02 L238.71 288.00 L239.35 290.21 L239.99 289.10 L240.63 285.38 L241.26 283.86 L241.90 280.92 L242.54 280.30 L243.18 279.24 L243.82 281.24 L244.45 276.66 L245.09 278.03 L245.73 276.81 L246.37 273.05 L247.00 271.88 L247.64 274.34 L248.28 272.65 L248.92 263.62 L249.55 262.99 L250.19 260.08 L250.83 257.91 L251.47 260.72 L252.11 255.74 L252.74 254.95 L253.38 254.04 L254.02 245.00 L254.66 243.39 L255.29 241.79 L255.93 242.49 L256.57 236.75 L257.21 236.66 L257.85 235.95 L258.48 233.67 L259.12 229.25 L259.76 223.28 L260.40 218.91 L261.03 225.61 L261.67 221.96 L262.31 216.16 L262.95 216.32 L263.58 215.43 L264.22 210.66 L264.86 216.20 L265.50 212.48 L266.14 213.65 L266.77 216.65 L267.41 213.89 L268.05 216.02 L268.69 215.87 L269.32 214.97 L269.96 215.43 L270.60 221.65 L271.24 215.88 L271.87 222.26 L272.51 215.04 L273.15 220.97 L273.79 220.05 L274.43 218.11 L275.06 214.72 L275.70 227.12 L276.34 219.31 L276.98 220.74 L277.61 224.94 L278.25 225.42 L278.89 226.62 L279.53 225.22 L280.17 221.26 L280.80 228.20 L281.44 222.10 L282.08 224.84 L282.72 225.13 L283.35 226.21 L283.99 220.98 L284.63 219.73 L285.27 219.01 L285.90 213.23 L286.54 215.91 L287.18 214.57 L287.82 213.70 L288.46 217.50 L289.09 216.04 L289.73 222.10 L290.37 222.19 L291.01 212.46 L291.64 219.09 L292.28 216.14 L292.92 221.15 L293.56 220.15 L294.19 222.66 L294.83 220.93 L295.47 222.41 L296.11 219.45 L296.75 214.91 L297.38 219.04 L298.02 221.64 L298.66 224.27 L299.30 224.22 L299.93 233.71 L300.57 230.10 L301.21 236.24 L301.85 233.29 L302.49 241.03 L303.12 234.60 L303.76 241.76 L304.40 238.07 L305.04 245.12 L305.67 250.36 L306.31 243.05 L306.95 247.17 L307.59 252.23 L308.22 252.80 L308.86 251.16 L309.50 259.88 L310.14 258.21 L310.78 263.03 L311.41 261.58 L312.05 258.68 L312.69 261.63 L313.33 267.75 L313.96 260.99 L314.60 264.30 L315.24 268.00 L315.88 269.88 L316.51 270.09 L317.15 264.54 L317.79 274.68 L318.43 269.13 L319.07 270.11 L319.70 270.60 L320.34 270.52 L320.98 269.08 L321.62 271.22 L322.25 275.92 L322.89 269.22 L323.53 267.51 L324.17 274.44 L324.81 273.92 L325.44 274.85 L326.08 277.26 L326.72 270.73 L327.36 272.78 L327.99 273.31 L328.63 274.84 L329.27 273.96 L329.91 268.77 L330.54 266.93 L331.18 269.17 L331.82 265.17 L332.46 271.39 L333.10 266.89 L333.73 266.26 L334.37 264.18 L335.01 269.46 L335.65 265.59 L336.28 263.03 L336.92 264.71 L337.56 262.06 L338.20 262.79 L338.83 263.58 L339.47 258.64 L340.11 259.50 L340.75 258.32 L341.39 258.81 L342.02 256.34 L342.66 253.80 L343.30 250.98 L343.94 252.07 L344.57 247.56 L345.21 250.37 L345.85 247.55 L346.49 247.31 L347.13 243.28 L347.76 241.12 L348.40 239.34 L349.04 242.64 L349.68 237.93 L350.31 236.36 L350.95 231.08 L351.59 233.53 L352.23 226.99 L352.86 233.44 L353.50 227.96 L354.14 226.92 L354.78 221.93 L355.42 221.12 L356.05 223.45 L356.69 219.88 L357.33 219.68 L357.97 219.94 L358.60 216.88 L359.24 209.39 L359.88 210.06 L360.52 208.46 L361.15 207.95 L361.79 204.47 L362.43 203.86 L363.07 206.20 L363.71 205.96 L364.34 207.95 L364.98 205.56 L365.62 208.91 L366.26 201.05 L366.89 201.23 L367.53 203.82 L368.17 201.04 L368.81 197.14 L369.45 197.91 L370.08 195.24 L370.72 192.14 L371.36 184.74 L372.00 181.80 L372.63 178.51 L373.27 174.31 L373.91 172.40 L374.55 165.04 L375.18 162.42 L375.82 152.47 L376.46 153.48 L377.10 150.14 L377.74 141.30 L378.37 137.99 L379.01 126.77 L379.65 123.76 L380.29 115.46 L380.92 113.39 L381.56 107.88 L382.20 98.13 L382.84 93.29 L383.47 87.96 L384.11 85.19 L384.75 76.48 L385.39 69.85 L386.03 63.22 L386.60 47.00 L387.30 38.00 L388.00 30.00 L388.50 19.80 L389.20 30.00 L389.80 24.00 L390.30 31.50 L390.90 15.60 L391.40 27.00 L392.00 22.00 L392.50 31.50 L393.20 24.50 L393.80 34.00 L394.30 40.00 L395.00 47.00 L395.59 59.27 L396.23 71.21 L396.87 84.07 L397.50 91.66 L398.14 99.12 L398.78 108.79 L399.42 115.91 L400.06 125.24 L400.69 130.82 L401.33 136.83 L401.97 144.38 L402.61 151.10 L403.24 153.56 L403.88 161.23 L404.52 166.21 L405.16 174.37 L405.79 175.89 L406.43 183.78 L407.07 183.91 L407.71 191.21 L408.35 198.49 L408.98 201.02 L409.62 209.10 L410.26 207.98 L410.90 217.22 L411.53 222.44 L412.17 226.55 L412.81 228.32 L413.45 237.11 L414.09 235.66 L414.72 245.24 L415.36 246.61 L416.00 250.43 L416.64 250.26 L417.27 250.70 L417.91 253.88 L418.55 255.77 L419.19 259.45 L419.82 258.94 L420.46 261.44 L421.10 262.57 L421.74 265.43 L422.38 259.57 L423.01 263.68 L423.65 266.77 L424.29 267.65 L424.93 265.99 L425.56 267.39 L426.20 268.49 L426.84 269.63 L427.48 268.93 L428.11 269.37 L428.75 269.00 L429.39 270.94 L430.03 274.81 L430.67 270.90 L431.30 275.00 L431.94 277.31 L432.58 274.57 L433.22 278.49 L433.85 274.89 L434.49 278.62 L435.13 275.95 L435.77 274.29 L436.41 277.45 L437.04 280.52 L437.68 276.51 L438.32 278.67 L438.96 276.40 L439.59 276.87 L440.23 279.42 L440.87 278.60 L441.51 280.11 L442.14 281.53 L442.78 277.74 L443.42 278.80 L444.06 280.23 L444.70 283.69 L445.33 280.10 L445.97 280.08 L446.61 281.73 L447.25 284.43 L447.88 280.55 L448.52 281.16 L449.16 281.86 L449.80 283.09 L450.43 285.14 L451.07 280.41 L451.71 279.97 L452.35 282.79 L452.99 283.48 L453.62 279.74 L454.26 282.09 L454.90 284.40 L455.54 282.38 L456.17 283.82 L456.81 283.38 L457.45 283.99 L458.09 283.61 L458.73 283.27 L459.36 284.54 L460.00 281.89 L460.64 282.71 L461.28 283.97 L461.91 281.45 L462.55 281.54 L463.19 280.83 L463.83 280.39 L464.46 284.30 L465.10 281.97 L465.74 283.73 L466.38 281.93 L467.02 280.82 L467.65 280.12 L468.29 280.68 L468.93 280.05 L469.57 281.19 L470.20 278.52 L470.84 279.78 L471.48 280.00 L472.12 278.84 L472.75 278.64 L473.39 279.52 L474.03 279.33 L474.67 278.21 L475.31 278.14 L475.94 277.20 L476.58 278.57 L477.22 277.47 L477.86 275.30 L478.49 276.87 L479.13 278.00 L479.77 277.39 L480.41 275.64 L481.05 277.77 L481.68 277.50 L482.32 277.45 L482.96 278.68 L483.60 276.07 L484.23 277.33 L484.87 276.12 L485.51 277.81 L486.15 278.04 L486.78 277.10 L487.42 277.45 L488.06 275.30 L488.70 277.29 L489.34 274.80 L489.97 279.27 L490.61 278.07 L491.25 274.40 L491.89 273.58 L492.52 278.37 L493.16 275.44 L493.80 277.42 L494.44 274.94 L495.07 276.89 L495.71 275.97 L496.35 277.75 L496.99 276.55 L497.63 279.13 L498.26 276.13 L498.90 279.02 L499.54 277.33 L500.18 278.16 L500.81 275.35 L501.45 275.23 L502.09 279.17 L502.73 276.14 L503.37 277.46 L504.00 277.58 L504.64 276.87 L505.28 278.48 L505.92 276.36 L506.55 276.75 L507.19 279.73 L507.83 277.44 L508.47 279.63 L509.10 279.60 L509.74 280.83 L510.38 279.44 L511.02 276.37 L511.66 278.03 L512.29 278.40 L512.93 280.68 L513.57 279.51 L514.21 278.40 L514.84 279.69 L515.48 278.63 L516.12 279.88 L516.76 279.36 L517.39 280.68 L518.03 279.64 L518.67 280.55 L519.31 279.18 L519.95 280.13 L520.58 278.87 L521.22 279.84 L521.86 279.14 L522.50 278.53 L523.13 278.00 L523.77 278.08 L524.41 279.00 L525.05 275.45 L525.69 280.00 L526.32 275.56 L526.96 278.34 L527.60 278.42 L528.24 280.22 L528.87 279.93 L529.51 280.00 L530.15 280.66 L530.79 282.34 L531.42 284.43 L532.06 282.63 L532.70 279.85 L533.34 282.58 L533.98 284.20 L534.61 286.96 L535.25 283.59 L535.89 284.65 L536.53 286.45 L537.16 286.69 L537.80 285.04 L538.44 288.70 L539.08 286.25 L539.71 288.28 L540.35 291.05" stroke-width="1.5" stroke-linejoin="miter" stroke-miterlimit="10"/>
<path d="M56.3 24.5H74.5" stroke-width="1.3"/>
<path d="M56.3 46.6H74.3" stroke-width="2.4"/>
<path d="M56.3 68.8H74" stroke-width="1.5" stroke-dasharray="4.8 1.5"/>
<path d="M56.3 91.1H74" stroke-width="1.4"/>
</g>
<g font-family="'Liberation Sans', Arial, Helvetica, sans-serif" fill="#000" stroke="#000" stroke-width="0.3">
<g font-size="14">
<text x="81.4" y="28.8" textLength="113.9" lengthAdjust="spacingAndGlyphs">MCC (measured)</text>
<text x="81.4" y="50.8" textLength="115.9" lengthAdjust="spacingAndGlyphs">MCC (calculated)</text>
<text x="81.4" y="73.9" textLength="200.1" lengthAdjust="spacingAndGlyphs">Cellulose (Form I<tspan font-family="'Liberation Serif', serif" font-size="15">β</tspan>, calculated)</text>
<text x="81.4" y="95.9" textLength="197.7" lengthAdjust="spacingAndGlyphs">MCC (amorphous, calculated)</text>
<text x="30.5" y="374.1" text-anchor="middle">0</text>
<text x="110.2" y="374.1" text-anchor="middle">5</text>
<text x="189.9" y="374.1" text-anchor="middle">10</text>
<text x="269.6" y="374.1" text-anchor="middle">15</text>
<text x="349.4" y="374.1" text-anchor="middle">20</text>
<text x="429.1" y="374.1" text-anchor="middle">25</text>
<text x="508.8" y="374.1" text-anchor="middle">30</text>
<text x="588.5" y="374.1" text-anchor="middle">35</text>
</g>
<g font-size="16">
<text x="262.3" y="402" font-style="italic" letter-spacing="1.1">2θ</text>
<text x="288.6" y="402" textLength="68" lengthAdjust="spacingAndGlyphs">[degrees]</text>
<text transform="translate(12.1 253.5) rotate(-90)" textLength="149" lengthAdjust="spacingAndGlyphs">Intensity [arb. scale]</text>
</g></g>
</svg>
</body></html>
